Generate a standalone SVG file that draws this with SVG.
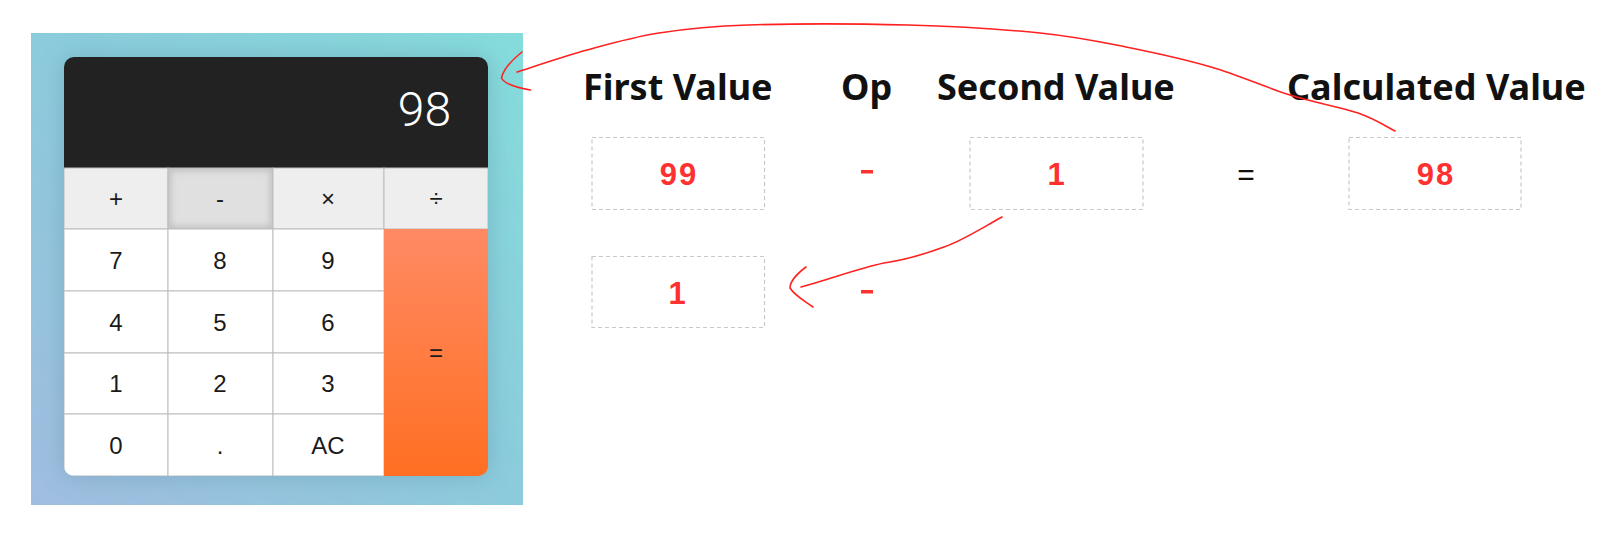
<svg xmlns="http://www.w3.org/2000/svg" width="1600" height="538" viewBox="0 0 1600 538">
  <defs>
    <linearGradient id="bg" x1="0" y1="1" x2="1" y2="0">
      <stop offset="0" stop-color="#a0bde0"/>
      <stop offset="0.5" stop-color="#8ccbdc"/>
      <stop offset="1" stop-color="#85dcdb"/>
    </linearGradient>
    <linearGradient id="eq" x1="0" y1="0" x2="0" y2="1">
      <stop offset="0" stop-color="#ff8a64"/>
      <stop offset="1" stop-color="#ff6f22"/>
    </linearGradient>
    <filter id="shadow" x="-20%" y="-20%" width="140%" height="140%">
      <feGaussianBlur stdDeviation="12"/>
    </filter>
    <filter id="inset" x="0" y="0" width="100%" height="100%">
      <feGaussianBlur stdDeviation="3"/>
    </filter>
    <clipPath id="calcClip">
      <rect x="64" y="57" width="424" height="419" rx="10" ry="10"/>
    </clipPath>
    <clipPath id="minusClip">
      <rect x="168" y="168" width="105" height="61"/>
    </clipPath>
    <style>
      .key { fill: #ffffff; stroke: #bdbdbd; stroke-width: 1; }
      .opkey { fill: #eeeeee; stroke: #bdbdbd; stroke-width: 1; }
      .keytxt { font-family: "Liberation Sans", Arial, sans-serif; font-size: 24px; fill: #1a1a1a; text-anchor: middle; }
      .head { font-family: "Noto Sans", "Liberation Sans", Arial, sans-serif; font-size: 36px; font-weight: 700; fill: #111111; }
      .box { fill: none; stroke: #c8c8c8; stroke-width: 1.2; stroke-dasharray: 4 3; }
      .val { font-family: "Liberation Sans", Arial, sans-serif; font-size: 31px; font-weight: 700; fill: #ff3030; text-anchor: middle; letter-spacing: 2px; }
      .arrow { fill: none; stroke: #ff2020; stroke-width: 1.6; stroke-linecap: round; stroke-linejoin: round; }
    </style>
  </defs>

  <!-- background -->
  <rect x="31" y="33" width="492" height="472" fill="url(#bg)"/>
  <rect x="64" y="57" width="424" height="419" rx="10" fill="#4f7f96" opacity="0.35" filter="url(#shadow)"/>

  <g id="calculator" clip-path="url(#calcClip)">
    <g id="display">
      <rect x="64" y="57" width="424" height="111" fill="#222222"/>
      <text x="451" y="126" font-family="Roboto, 'Liberation Sans', sans-serif" font-weight="300" font-size="48" fill="#ffffff" text-anchor="end">98</text>
    </g>
    <g id="key-plus"><rect class="opkey" x="64" y="168" width="104" height="61"/><text class="keytxt" x="116" y="207">+</text></g>
    <g id="key-minus">
      <rect x="168" y="168" width="105" height="61" fill="#e0e0e0" stroke="#bdbdbd"/>
      <g clip-path="url(#minusClip)"><rect x="168" y="168" width="105" height="61" fill="none" stroke="#b8b8b8" stroke-width="5" filter="url(#inset)"/></g>
      <text class="keytxt" x="220" y="207">-</text>
    </g>
    <g id="key-times"><rect class="opkey" x="273" y="168" width="111" height="61"/><text class="keytxt" x="328" y="207">×</text></g>
    <g id="key-divide"><rect class="opkey" x="384" y="168" width="104" height="61"/><text class="keytxt" x="436" y="207">÷</text></g>

    <g id="key-7"><rect class="key" x="64" y="229" width="104" height="62"/><text class="keytxt" x="116" y="269">7</text></g>
    <g id="key-8"><rect class="key" x="168" y="229" width="105" height="62"/><text class="keytxt" x="220" y="269">8</text></g>
    <g id="key-9"><rect class="key" x="273" y="229" width="111" height="62"/><text class="keytxt" x="328" y="269">9</text></g>

    <g id="key-4"><rect class="key" x="64" y="291" width="104" height="62"/><text class="keytxt" x="116" y="330.5">4</text></g>
    <g id="key-5"><rect class="key" x="168" y="291" width="105" height="62"/><text class="keytxt" x="220" y="330.5">5</text></g>
    <g id="key-6"><rect class="key" x="273" y="291" width="111" height="62"/><text class="keytxt" x="328" y="330.5">6</text></g>

    <g id="key-1"><rect class="key" x="64" y="353" width="104" height="61"/><text class="keytxt" x="116" y="392">1</text></g>
    <g id="key-2"><rect class="key" x="168" y="353" width="105" height="61"/><text class="keytxt" x="220" y="392">2</text></g>
    <g id="key-3"><rect class="key" x="273" y="353" width="111" height="61"/><text class="keytxt" x="328" y="392">3</text></g>

    <g id="key-0"><rect class="key" x="64" y="414" width="104" height="62"/><text class="keytxt" x="116" y="454">0</text></g>
    <g id="key-dot"><rect class="key" x="168" y="414" width="105" height="62"/><text class="keytxt" x="220" y="454">.</text></g>
    <g id="key-ac"><rect class="key" x="273" y="414" width="111" height="62"/><text class="keytxt" x="328" y="454">AC</text></g>

    <g id="key-equals">
      <rect x="384" y="229" width="104" height="247" fill="url(#eq)"/>
      <text class="keytxt" x="436" y="361">=</text>
    </g>
  </g>

  <!-- headers -->
  <g id="header-first"><text class="head" x="583" y="100">First Value</text></g>
  <g id="header-op"><text class="head" x="841" y="100">Op</text></g>
  <g id="header-second"><text class="head" x="937" y="100">Second Value</text></g>
  <g id="header-calculated"><text class="head" x="1287" y="100">Calculated Value</text></g>

  <!-- row 1 -->
  <g id="first-value"><rect class="box" x="592" y="137.5" width="172.5" height="72"/><text class="val" x="679" y="185">99</text></g>
  <g id="op-1"><rect x="861" y="170" width="12" height="3.5" fill="#ff3030"/></g>
  <g id="second-value"><rect class="box" x="970" y="137.5" width="173" height="72"/><text class="val" x="1057" y="185">1</text></g>
  <g id="equals"><text x="1246" y="185" font-family="'Liberation Sans', Arial, sans-serif" font-size="30" fill="#111111" text-anchor="middle">=</text></g>
  <g id="calculated-value"><rect class="box" x="1349" y="137.5" width="172" height="72"/><text class="val" x="1436" y="185">98</text></g>

  <!-- row 2 -->
  <g id="next-first-value"><rect class="box" x="592" y="256.5" width="172.5" height="71"/><text class="val" x="678" y="304">1</text></g>
  <g id="op-2"><rect x="861" y="290" width="12" height="3.5" fill="#ff3030"/></g>

  <!-- connectors -->
  <g id="connectors">
    <path class="arrow" d="M1395,131 C1388.8,128 1375.5,119 1358,113 C1340.5,107 1314.5,102.7 1290,95 C1265.5,87.3 1238.3,75 1211,67 C1183.7,59 1154.5,52.7 1126,47 C1097.5,41.3 1076.3,36.7 1040,33 C1003.7,29.3 956.7,26.3 908,25 C859.3,23.7 789.5,23.7 748,25 C706.5,26.3 685.8,28.8 659,33 C632.2,37.2 610.7,43.5 587,50 C563.3,56.5 528.7,68.3 517,72"/>
    <path class="arrow" d="M522,52 C512,60 503,70 501.5,78 C505,85 518,88 530.5,90"/>
    <path class="arrow" d="M1002,217 C982,228 962,241 944,247 C925,254 905,260 884,263 C860,268 830,279 801,287"/>
    <path class="arrow" d="M806,267 C798,273 790,281 790,288 C795,296 805,301 813,307"/>
  </g>
</svg>
